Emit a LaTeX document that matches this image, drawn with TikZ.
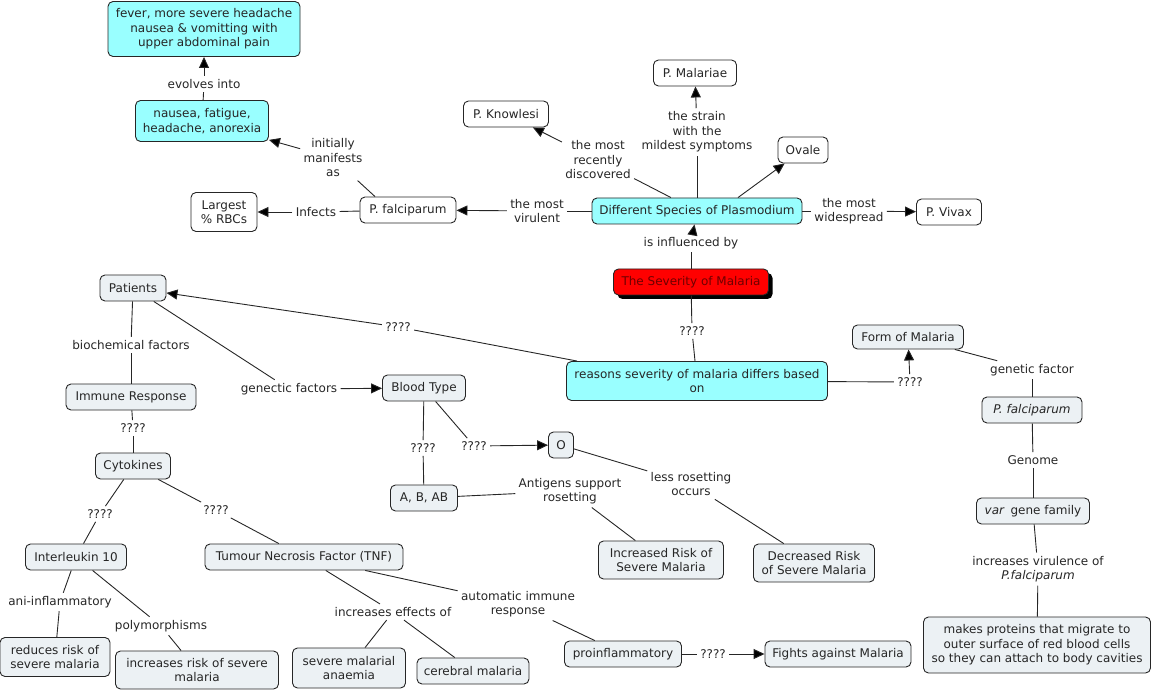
\documentclass[tikz,border=0pt]{standalone}
\usepackage{fontspec}
\setmainfont{DejaVu Sans}
\usetikzlibrary{arrows.meta,shadows}
\definecolor{cyanfill}{RGB}{153,255,255}
\definecolor{grayfill}{RGB}{236,241,244}
\definecolor{darkredtext}{RGB}{110,0,0}
\tikzset{
	concept/.style={draw=black!85,rounded corners=5pt,align=center,inner xsep=3pt,inner ysep=6pt,minimum height=26pt,text=black!85,line width=0.9pt},
	cyanconcept/.style={concept,fill=cyanfill},
	grayconcept/.style={concept,fill=grayfill},
	whiteconcept/.style={concept,fill=white},
	redconcept/.style={concept,fill=red,text=darkredtext,drop shadow={shadow xshift=4pt,shadow yshift=-4pt,fill=black,opacity=1}},
	linkphrase/.style={align=center,inner sep=3pt,text=black!85},
	arr/.style={-{Triangle[length=11pt,width=10pt,fill=black]}}
}
\begin{document}
\begin{tikzpicture}[x=1pt,y=-1pt,line width=0.9pt,draw=black!85,font=\fontsize{12}{14.5}\selectfont]
	\useasboundingbox (0,0) rectangle (1153,692);
	
	\node[cyanconcept,minimum width=192pt,minimum height=55pt] (fever) at (204,29) {fever, more severe headache\\nausea \& vomitting with\\upper abdominal pain};
	\node[linkphrase] (evolves) at (204,84) {evolves into};
	\node[cyanconcept,minimum width=133pt,minimum height=41pt] (nausea) at (202,121) {nausea, fatigue,\\headache, anorexia};
	\node[linkphrase] (manifests) at (333,158) {initially\\manifests\\as};
	\node[whiteconcept,minimum width=96pt] (pfalc) at (408,210) {P. falciparum};
	\node[linkphrase] (infects) at (316,212) {Infects};
	\node[whiteconcept,minimum width=66pt,minimum height=39pt] (largest) at (224,212) {Largest\\\% RBCs};
	\node[whiteconcept,minimum width=85pt] (knowlesi) at (506,114) {P. Knowlesi};
	\node[linkphrase] (recent) at (598,160) {the most\\recently\\discovered};
	\node[whiteconcept,minimum width=83pt] (malariae) at (695,73) {P. Malariae};
	\node[linkphrase] (mildest) at (697,132) {the strain\\with the\\mildest symptoms};
	\node[whiteconcept,minimum width=50pt] (ovale) at (803,150) {Ovale};
	\node[cyanconcept,minimum width=210pt] (species) at (697,211) {Different Species of Plasmodium};
	\node[linkphrase] (virulent) at (537,211) {the most\\virulent};
	\node[linkphrase] (widespread) at (849,211) {the most\\widespread};
	\node[whiteconcept,minimum width=65pt] (vivax) at (949,212) {P. Vivax};
	\node[linkphrase] (influenced) at (691,243) {is influenced by};
	\node[redconcept,minimum width=155pt] (severity) at (691,282) {The Severity of Malaria};
	\node[linkphrase] (qsev) at (692,331) {????};
	\node[cyanconcept,minimum width=261pt,minimum height=39pt] (reasons) at (697,381) {reasons severity of malaria differs based\\on};
	
	\node[linkphrase] (qpat) at (398,327) {????};
	\node[grayconcept,minimum width=66pt] (patients) at (133,288) {Patients};
	\node[linkphrase] (biochem) at (131,345) {biochemical factors};
	\node[grayconcept,minimum width=130pt] (immune) at (131,397) {Immune Response};
	\node[linkphrase] (qimm) at (133,428) {????};
	\node[grayconcept,minimum width=75pt] (cytokines) at (133,466) {Cytokines};
	\node[linkphrase] (qil) at (100,514) {????};
	\node[grayconcept,minimum width=101pt] (interleukin) at (76,557) {Interleukin 10};
	\node[linkphrase] (qtnf) at (216,510) {????};
	\node[grayconcept,minimum width=198pt] (tnf) at (304,557) {Tumour Necrosis Factor (TNF)};
	\node[linkphrase] (antiinfl) at (60,602) {ani-inflammatory};
	\node[linkphrase] (poly) at (161,626) {polymorphisms};
	\node[grayconcept,minimum width=110pt,minimum height=39pt] (reduces) at (55,657) {reduces risk of\\severe malaria};
	\node[grayconcept,minimum width=163pt,minimum height=38pt] (increases) at (197,670) {increases risk of severe\\malaria};
	\node[linkphrase] (effects) at (393,612) {increases effects of};
	\node[grayconcept,minimum width=113pt,minimum height=40pt] (anaemia) at (349,668) {severe malarial\\anaemia};
	\node[grayconcept,minimum width=112pt] (cerebral) at (473,671) {cerebral malaria};
	\node[linkphrase] (automatic) at (518,604) {automatic immune\\response};
	\node[grayconcept,minimum width=117pt] (proinfl) at (623,654) {proinflammatory};
	\node[linkphrase] (qfight) at (713,654) {????};
	\node[grayconcept,minimum width=146pt] (fights) at (838,654) {Fights against Malaria};
	
	\node[linkphrase] (genectic) at (289,389) {genectic factors};
	\node[grayconcept,minimum width=83pt] (bloodtype) at (424,388) {Blood Type};
	\node[linkphrase] (qab) at (423,448) {????};
	\node[linkphrase] (qo) at (474,446) {????};
	\node[grayconcept,minimum width=25pt] (onode) at (561,445) {O};
	\node[grayconcept,minimum width=67pt] (abab) at (424,498) {A, B, AB};
	\node[linkphrase] (antigens) at (570,491) {Antigens support\\rosetting};
	\node[grayconcept,minimum width=125pt,minimum height=38pt] (increased) at (661,560) {Increased Risk of\\Severe Malaria};
	\node[linkphrase] (lessros) at (691,484) {less rosetting\\occurs};
	\node[grayconcept,minimum width=121pt,minimum height=38pt] (decreased) at (814,563) {Decreased Risk\\of Severe Malaria};
	
	\node[linkphrase] (qform) at (910,382) {????};
	\node[grayconcept,minimum width=111pt,minimum height=24pt] (form) at (908,337) {Form of Malaria};
	\node[linkphrase] (genfactor) at (1032,370) {genetic factor};
	\node[grayconcept,minimum width=100pt] (pfalc2) at (1032,410) {\textit{P. falciparum}};
	\node[linkphrase] (genome) at (1033,460) {Genome};
	\node[grayconcept,minimum width=113pt] (vargene) at (1033,511) {\textit{var}\, gene family};
	\node[linkphrase] (virulence) at (1038,569) {increases virulence of\\\textit{P.falciparum}};
	\node[grayconcept,minimum width=227pt,minimum height=56pt] (proteins) at (1037,645) {makes proteins that migrate to\\outer surface of red blood cells\\so they can attach to body cavities};
	
	\draw (nausea) -- (evolves);
	\draw[arr] (evolves) -- (fever);
	\draw ([xshift=-33pt]pfalc.north) -- (manifests);
	\draw[arr] (manifests) -- (nausea);
	\draw (pfalc) -- (infects);
	\draw[arr] (infects) -- (largest);
	\draw (species) -- (recent);
	\draw[arr] (recent) -- (knowlesi);
	\draw (species) -- (mildest);
	\draw[arr] (mildest) -- (malariae);
	\draw[arr] ([xshift=41pt]species.north) -- (ovale);
	\draw (species) -- (virulent);
	\draw[arr] (virulent) -- (pfalc);
	\draw (species) -- (widespread);
	\draw[arr] (widespread) -- (vivax);
	\draw (severity) -- (influenced);
	\draw[arr] (influenced) -- (species);
	\draw (severity) -- (qsev);
	\draw (qsev) -- (reasons);
	\draw ([xshift=11pt]reasons.north west) -- (qpat);
	\draw[arr] (qpat) -- (patients);
	\draw (reasons) -- (qform);
	\draw[arr] (qform) -- (form);
	
	\draw (patients) -- (biochem);
	\draw (biochem) -- (immune);
	\draw (immune) -- (qimm);
	\draw (qimm) -- (cytokines);
	\draw (cytokines) -- (qil);
	\draw (qil) -- (interleukin);
	\draw (cytokines) -- (qtnf);
	\draw (qtnf) -- (tnf);
	\draw (interleukin) -- (antiinfl);
	\draw (antiinfl) -- (reduces);
	\draw (interleukin) -- (poly);
	\draw (poly) -- (increases);
	\draw (tnf) -- (effects);
	\draw (effects) -- (anaemia);
	\draw (effects) -- (cerebral);
	\draw (tnf) -- (automatic);
	\draw (automatic) -- (proinfl);
	\draw (proinfl) -- (qfight);
	\draw[arr] (qfight) -- (fights);
	
	\draw (patients) -- (genectic);
	\draw[arr] (genectic) -- (bloodtype);
	\draw (bloodtype) -- (qab);
	\draw (qab) -- (abab);
	\draw (bloodtype) -- (qo);
	\draw[arr] (qo) -- (onode);
	\draw (abab) -- (antigens);
	\draw (antigens) -- (increased);
	\draw (onode) -- (lessros);
	\draw (lessros) -- (decreased);
	
	\draw (form) -- (genfactor);
	\draw (genfactor) -- (pfalc2);
	\draw (pfalc2) -- (genome);
	\draw (genome) -- (vargene);
	\draw (vargene) -- (virulence);
	\draw (virulence) -- (proteins);
\end{tikzpicture}
\end{document}
